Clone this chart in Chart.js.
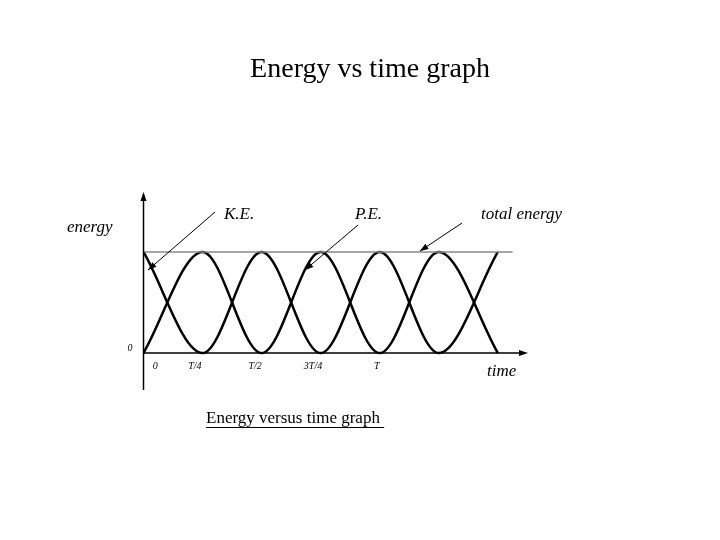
<!DOCTYPE html><html><head><meta charset="utf-8">
<script src="https://cdn.jsdelivr.net/npm/chart.js@4"></script>
<style>html,body{margin:0;background:#fff}#w{width:720px;height:540px}</style></head><body>
<div id="w"><canvas id="c"></canvas></div>
<script>
const times=[0,1,2,3,4,5,6];
const keValues=[1,0,1,0,1,0,1];
const peValues=[0,1,0,1,0,1,0];
const totalEnergy=[1,1];
const totalTimes=[0,6.25];
const tickLabels=['0','T/4','T/2','3T/4','T'];
const tickTimes=[0.2,0.87,1.89,2.87,3.95];
const ke=times.map((t,i)=>({x:t,y:keValues[i]}));
const pe=times.map((t,i)=>({x:t,y:peValues[i]}));
const deco={id:'deco',afterDraw(ch){
 const c=ch.ctx,x=ch.scales.x,y=ch.scales.y,a=ch.chartArea;
 const x0=x.getPixelForValue(0),y0=y.getPixelForValue(0);
 c.save();c.strokeStyle='#000';c.fillStyle='#000';c.lineWidth=1.5;
 c.beginPath();c.moveTo(x0,a.bottom);c.lineTo(x0,a.top);c.moveTo(x0,y0);c.lineTo(a.right,y0);c.stroke();
 c.beginPath();c.moveTo(x0,a.top-3);c.lineTo(x0-3,a.top+6);c.lineTo(x0+3,a.top+6);c.fill();
 c.beginPath();c.moveTo(a.right+3,y0);c.lineTo(a.right-6,y0-3);c.lineTo(a.right-6,y0+3);c.fill();
 c.lineWidth=1;
 const arr=(x1,y1,x2,y2)=>{c.beginPath();c.moveTo(x1,y1);c.lineTo(x2,y2);c.stroke();const an=Math.atan2(y2-y1,x2-x1);c.beginPath();c.moveTo(x2,y2);c.lineTo(x2-9*Math.cos(an-0.35),y2-9*Math.sin(an-0.35));c.lineTo(x2-9*Math.cos(an+0.35),y2-9*Math.sin(an+0.35));c.fill();};
 arr(215,212,148,270);arr(358,225,305,270);arr(462,223,420,251);
 c.font='italic 17px "Liberation Serif"';c.textBaseline='middle';c.textAlign='left';
 c.fillText('K.E.',224,215);c.fillText('P.E.',355,215);c.fillText('total energy',481,215);
 c.fillText('energy',67,228);c.fillText('time',487,372);
 c.font='italic 10px "Liberation Serif"';c.textAlign='center';
 c.fillText('0',130,348);
 tickLabels.forEach((l,i)=>c.fillText(l,x.getPixelForValue(tickTimes[i]),366));
 c.font='28px "Liberation Serif"';c.fillText('Energy vs time graph',370,70);
 c.font='17px "Liberation Serif"';c.textAlign='left';
 const cap='Energy versus time graph ';c.fillText(cap,206,419);
 const w=c.measureText(cap).width;c.fillRect(206,427,w,1);
 c.restore();}};
new Chart(document.getElementById('c'),{type:'line',
 data:{datasets:[
  {data:totalTimes.map((t,i)=>({x:t,y:totalEnergy[i]})),borderColor:'#888',borderWidth:1.5,pointRadius:0},
  {data:ke,borderColor:'#000',borderWidth:2.5,pointRadius:0,cubicInterpolationMode:'monotone'},
  {data:pe,borderColor:'#000',borderWidth:2.5,pointRadius:0,cubicInterpolationMode:'monotone'}]},
 options:{responsive:true,maintainAspectRatio:false,animation:false,
  layout:{padding:{left:143.5,right:195,top:195,bottom:150}},
  plugins:{legend:{display:false},tooltip:{enabled:false}},
  scales:{x:{type:'linear',min:0,max:6.46,display:false},y:{min:-0.366,max:1.564,display:false}}},
 plugins:[deco]});
</script></body></html>
